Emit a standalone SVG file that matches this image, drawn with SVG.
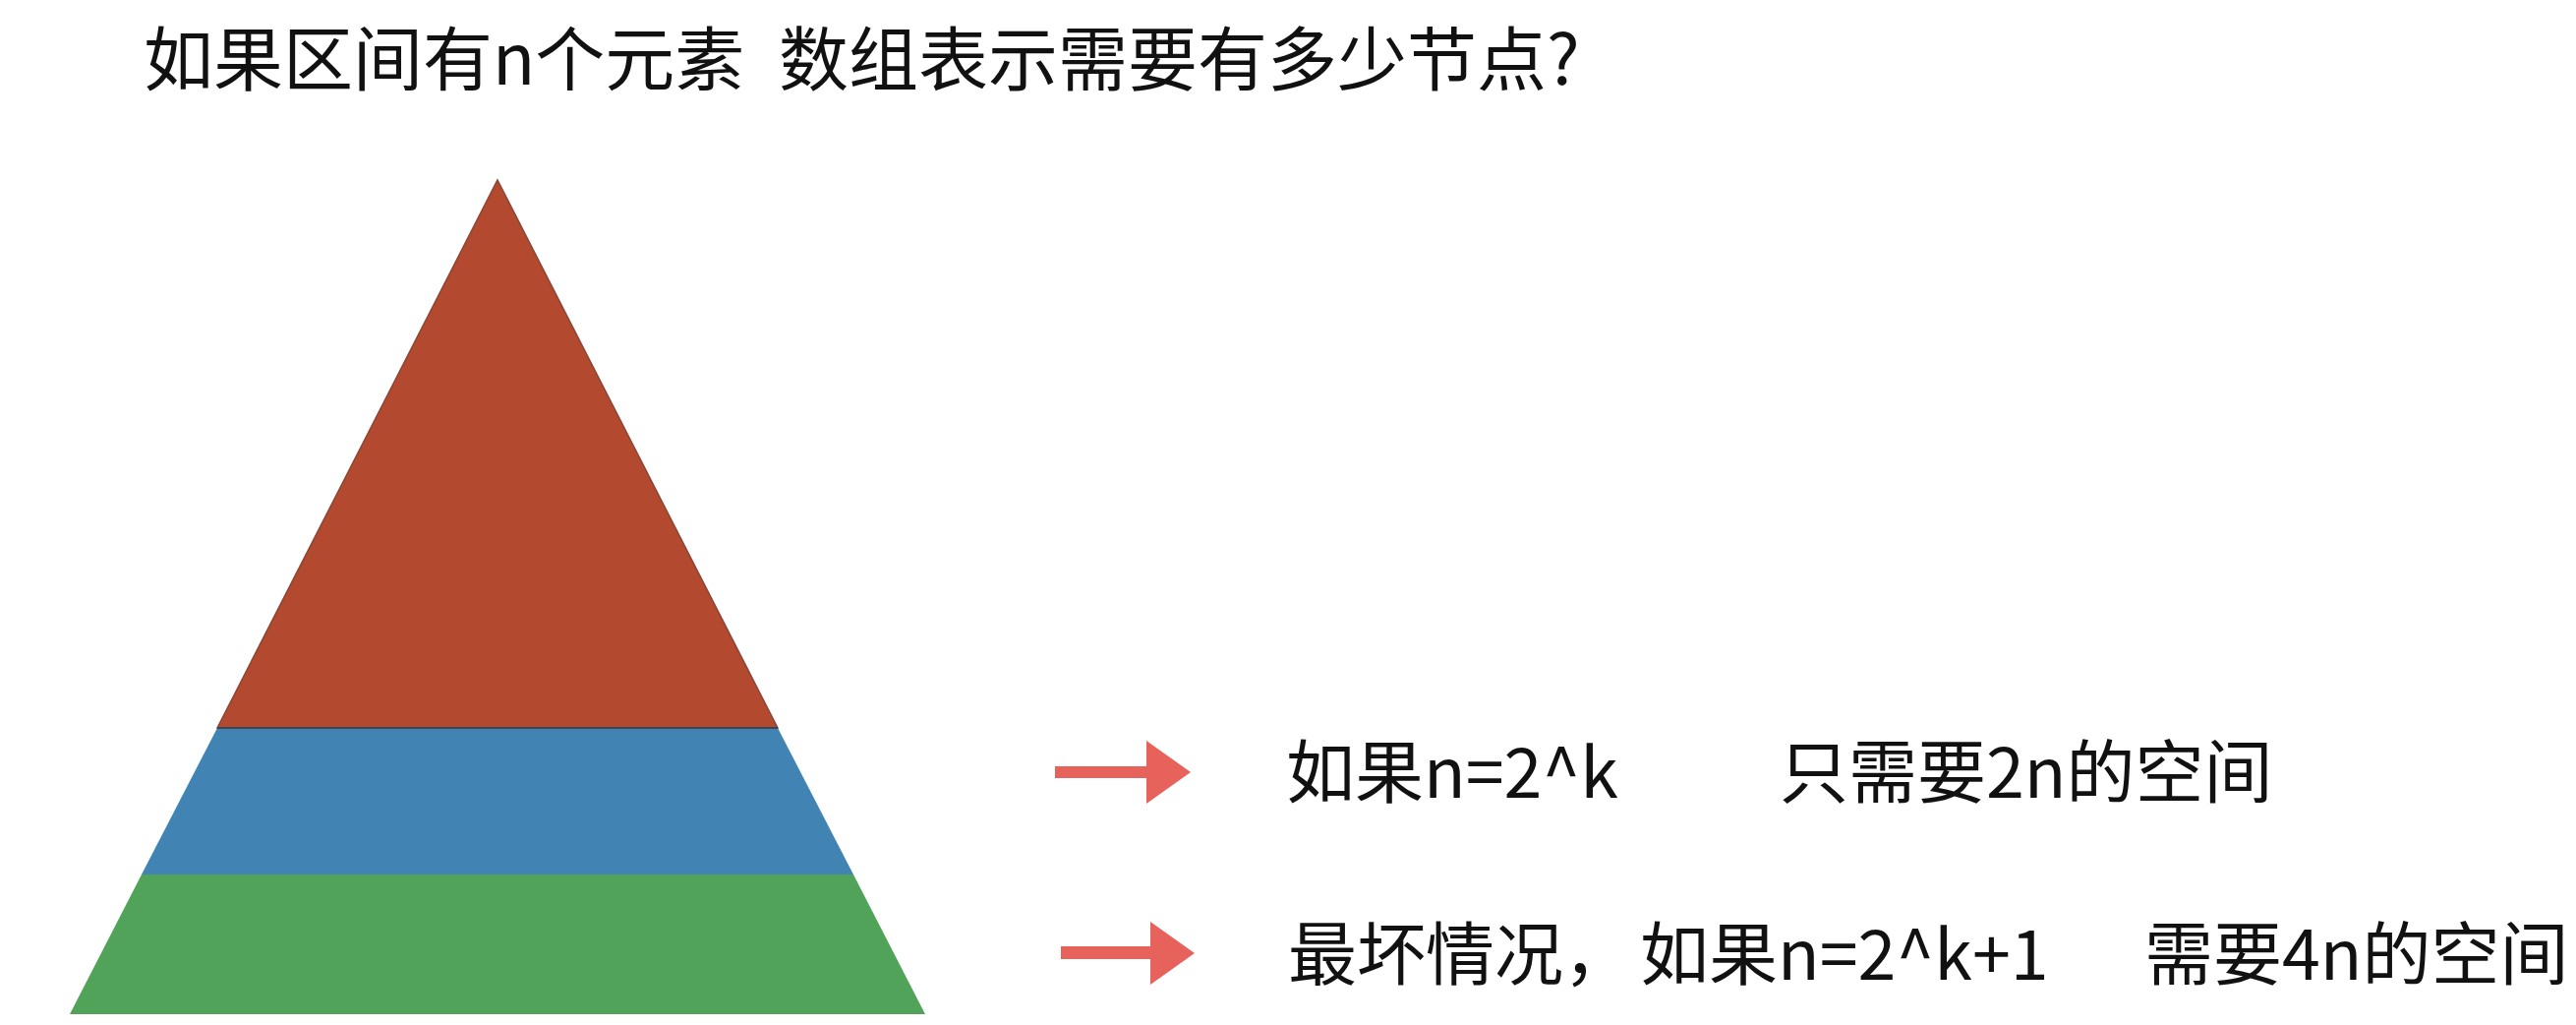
<svg xmlns="http://www.w3.org/2000/svg" width="2620" height="1042" viewBox="0 0 2620 1042">
<style>
.t{font-family:"Noto Sans CJK SC","Noto Sans",sans-serif;fill:#111;}
.title{font-size:71px;}
.lbl{font-size:70px;}
.arrow{fill:#E8625C;}
</style>
<rect width="2620" height="1042" fill="#fff"/>
<g id="title"><text class="t title" y="86"><tspan x="146">如果区间有n个元素</tspan><tspan x="792">数组表示需要有多少节点?</tspan></text></g>
<g id="pyramid">
<g id="layer-top"><polygon points="506,183 791,740 221,740" fill="#B34A30" stroke="#8a4535" stroke-width="1.5"/></g>
<g id="layer-middle"><polygon points="221,740 791,740 868,889 144,889" fill="#4184B4"/></g>
<g id="layer-bottom"><polygon points="144,889 868,889 941,1031 71,1031" fill="#52A35A"/></g>
<line x1="221" y1="740" x2="791" y2="740" stroke="#3d4550" stroke-width="2"/>
</g>
<g id="connectors">
<path class="arrow" d="M1073,779 H1166 V753 L1211,785 L1166,817 V791 H1073 Z"/>
<path class="arrow" d="M1079,962 H1170 V937 L1215,969 L1170,1001 V975 H1079 Z"/>
</g>
<g id="label-1"><text class="t lbl" y="811"><tspan x="1308">如果n=2^k</tspan><tspan x="1810">只需要2n的空间</tspan></text></g>
<g id="label-2"><text class="t lbl" y="996"><tspan x="1310">最坏情况，</tspan><tspan x="1668">如果n=2^k+1</tspan><tspan x="2181">需要4n的空间</tspan></text></g>
</svg>
